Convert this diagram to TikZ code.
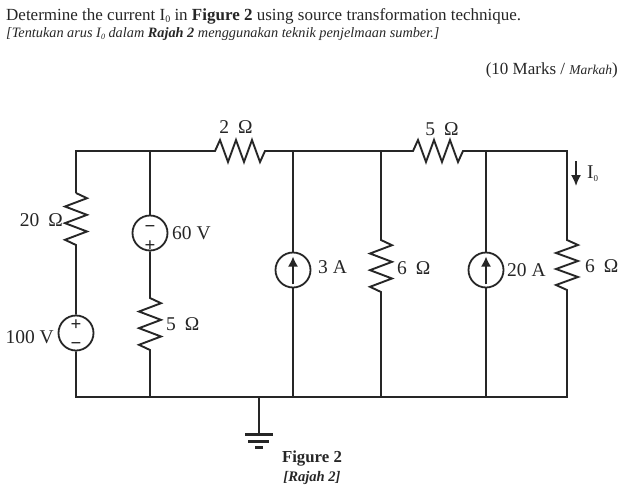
\documentclass[tikz,border=0pt]{standalone}
\usepackage{fontspec}
\setmainfont{Liberation Serif}
\usetikzlibrary{calc,arrows.meta}
\definecolor{ink}{HTML}{262626}
\newcommand{\ohmgap}{\hspace{9pt}}
\tikzset{
  wire/.style={draw=ink,line width=1.9pt,line join=miter},
  srcnode/.style={circle,draw=ink,line width=1.8pt,minimum size=35pt,inner sep=0pt,fill=white},
  lab/.style={inner sep=0pt,text=ink,font=\fontsize{19.5}{21}\selectfont},
  signmark/.style={inner sep=0pt,font=\bfseries\fontsize{19}{19}\selectfont,text=ink},
  res/.style={to path={
    -- ($(\tikztostart)!.10!(\tikztotarget)!11pt!90:(\tikztotarget)$)
    -- ($(\tikztostart)!.26!(\tikztotarget)!11pt!-90:(\tikztotarget)$)
    -- ($(\tikztostart)!.42!(\tikztotarget)!11pt!90:(\tikztotarget)$)
    -- ($(\tikztostart)!.58!(\tikztotarget)!11pt!-90:(\tikztotarget)$)
    -- ($(\tikztostart)!.74!(\tikztotarget)!11pt!90:(\tikztotarget)$)
    -- ($(\tikztostart)!.90!(\tikztotarget)!11pt!-90:(\tikztotarget)$)
    -- (\tikztotarget)}},
  upar/.style={-{Latex[length=10pt,width=10pt]},draw=ink,line width=1.4pt}
}
\begin{document}
\begin{tikzpicture}[x=1pt,y=-1pt]
\useasboundingbox (0,0) rectangle (623,490);
% junctions
\foreach \n/\x/\y in {TA/76/151,TB/150/151,TC/293/151,TD/381/151,TE/486/151,TF/567/151,
  BA/76/397,BB/150/397,BG/259/397,BC/293/397,BD/381/397,BE/486/397,BF/567/397,
  RaS/76/193,RaE/76/245,RbS/215/151,RbE/265/151,RcS/150/298,RcE/150/350,
  RdS/381/240,RdE/381/292,ReS/413/151,ReE/463/151,RfS/567/240,RfE/567/290,
  GT/259/434,GaL/245/434,GaR/273/434,GbL/248/441,GbR/269/441,GcL/255/447,GcR/263/447}{\coordinate (\n) at (\x,\y);}
% sources
\node[srcnode] (Vh) at (76,333) {};
\node[srcnode] (Vs) at (150,233) {};
\node[srcnode] (Ic) at (293,270) {};
\node[srcnode] (Ie) at (486,270) {};
% wires
\draw[wire] (RaS) to[res] (RaE) -- (Vh);
\draw[wire] (RaS) -- (TA) -- (TB) -- (RbS) to[res] (RbE) -- (TC) -- (TD) -- (ReS) to[res] (ReE) -- (TE) -- (TF) -- (RfS) to[res] (RfE) -- (BF) -- (BA) -- (Vh);
\draw[wire] (TB) -- (Vs);
\draw[wire] (Vs) -- (RcS) to[res] (RcE) -- (BB);
\draw[wire] (TC) -- (Ic) -- (BC);
\draw[wire] (TD) -- (RdS) to[res] (RdE) -- (BD);
\draw[wire] (TE) -- (Ie) -- (BE);
% source marks
\node[signmark] (Vhp) at (76,325) {+};
\node[signmark] (Vhm) at (76,346) {\textminus};
\node[signmark] (Vsm) at (150,229) {\textminus};
\node[signmark] (Vsp) at (150,246) {+};
\draw[upar] (Ic.south) ++(0,-4) -- ($(Ic.north)+(0,5)$);
\draw[upar] (Ie.south) ++(0,-4) -- ($(Ie.north)+(0,5)$);
% I0 arrow
\coordinate (AS) at (576,161);
\coordinate (AE) at (576,186);
\draw[-{Latex[length=11pt,width=10pt]},draw=ink,line width=1.6pt] (AS) -- (AE);
\node[lab,anchor=west] (Io) at (587,174) {I\raisebox{-3pt}{\fontsize{9}{9}\selectfont 0}};
% ground
\draw[draw=ink,line width=1.6pt] (BG) -- (GT);
\draw[draw=ink,line width=3pt] (GaL) -- (GaR);
\draw[draw=ink,line width=3pt] (GbL) -- (GbR);
\draw[draw=ink,line width=3pt] (GcL) -- (GcR);
% labels
\node[lab] (L2) at (236,127) {2\ohmgap Ω};
\node[lab] (L5) at (442,129) {5\ohmgap Ω};
\node[lab,anchor=east] (L20) at (63,220) {20\ohmgap Ω};
\node[lab,anchor=west] (L60) at (172,233) {60 V};
\node[lab,anchor=west] (L3) at (318,267) {3 A};
\node[lab,anchor=west] (L6a) at (397,268) {6\ohmgap Ω};
\node[lab,anchor=west] (L20a) at (507,270) {20 A};
\node[lab,anchor=west] (L6b) at (585,266) {6\ohmgap Ω};
\node[lab,anchor=east] (L100) at (54,337) {100 V};
\node[lab,anchor=west] (L5b) at (166,324) {5\ohmgap Ω};
% text
\node[anchor=west,inner sep=0pt,text=ink,font=\fontsize{17}{18}\selectfont] (T1) at (6,16.5) {Determine the current I\raisebox{-2pt}{\fontsize{10}{10}\selectfont 0} in \textbf{Figure 2} using source transformation technique.};
\node[anchor=west,inner sep=0pt,text=ink,font=\itshape\fontsize{14.3}{16}\selectfont] (T2) at (6,34) {[Tentukan arus I\raisebox{-2pt}{\fontsize{8}{8}\selectfont 0} dalam \textbf{Rajah 2} menggunakan teknik penjelmaan sumber.]};
\node[anchor=east,inner sep=0pt,text=ink,font=\fontsize{17}{18}\selectfont] (T3) at (618,70) {(10 Marks / {\itshape\fontsize{13.5}{14}\selectfont Markah})};
\node[inner sep=0pt,text=ink,font=\bfseries\fontsize{16.8}{18}\selectfont] (F1) at (312,459) {Figure 2};
\node[inner sep=0pt,text=ink,font=\bfseries\itshape\fontsize{14.6}{16}\selectfont] (F2) at (312,478) {[Rajah 2]};
\end{tikzpicture}
\end{document}
